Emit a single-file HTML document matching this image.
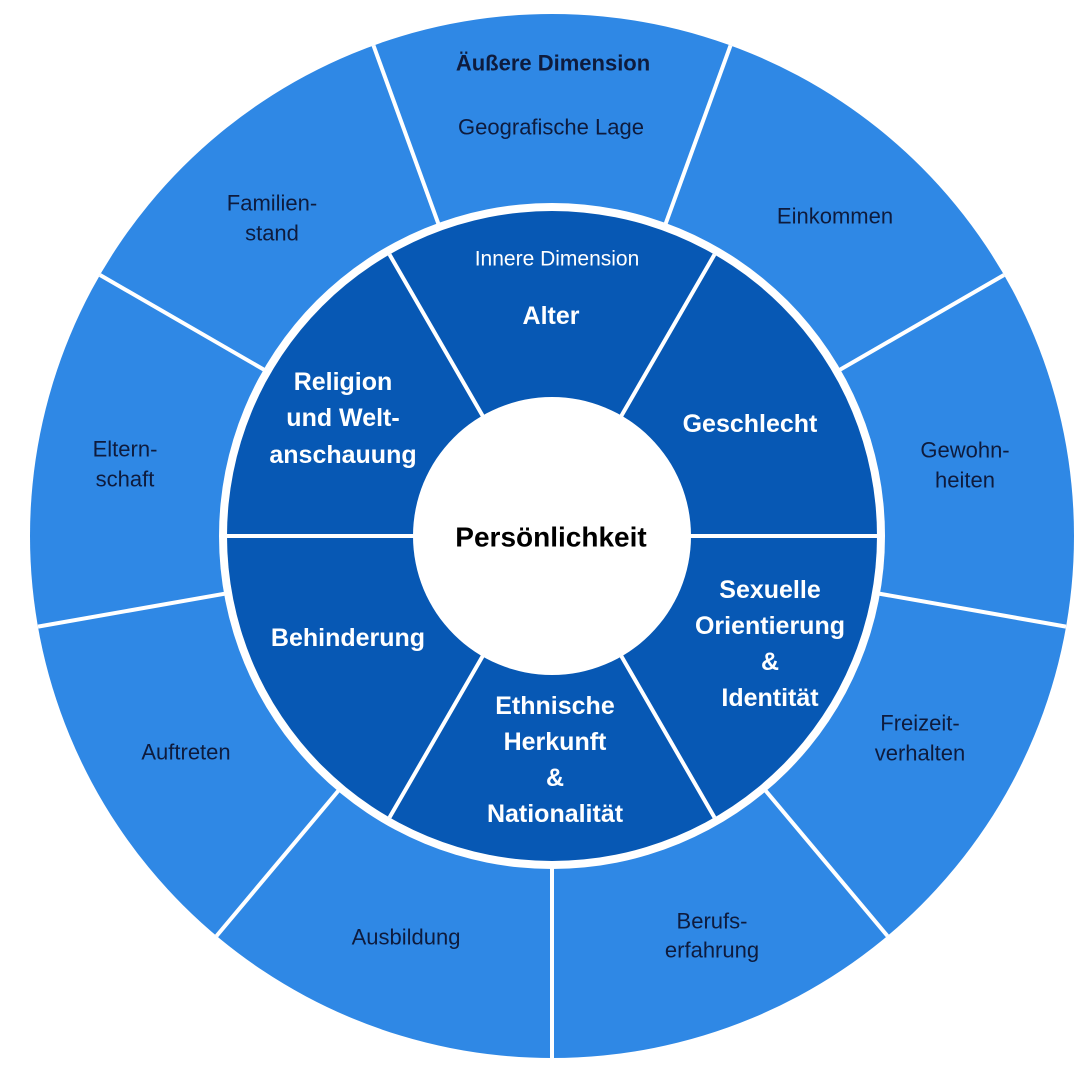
<!DOCTYPE html>
<html><head><meta charset="utf-8"><style>
html,body{margin:0;padding:0;background:#fff;}
svg{display:block;}
text{font-family:"Liberation Sans","DejaVu Sans",sans-serif;text-anchor:middle;dominant-baseline:central;}
.o{fill:#0e1b3d;font-size:22px;}
.i{fill:#fff;font-size:25px;font-weight:bold;}
</style></head><body>
<svg width="1083" height="1091" viewBox="0 0 1083 1091" xmlns="http://www.w3.org/2000/svg">
<circle cx="552" cy="536" r="522" fill="#2f88e5"/>
<g stroke="#fff" stroke-width="4">
<line x1="552" y1="536" x2="373.5" y2="45.5"/>
<line x1="552" y1="536" x2="730.5" y2="45.5"/>
<line x1="552" y1="536" x2="1004" y2="275"/>
<line x1="552" y1="536" x2="1066" y2="626.6"/>
<line x1="552" y1="536" x2="887.5" y2="936"/>
<line x1="552" y1="536" x2="552" y2="1058"/>
<line x1="552" y1="536" x2="216.5" y2="936"/>
<line x1="552" y1="536" x2="38" y2="626.6"/>
<line x1="552" y1="536" x2="100" y2="275"/>
</g>
<circle cx="552" cy="536" r="333" fill="#fff"/>
<circle cx="552" cy="536" r="325" fill="#0758b4"/>
<g stroke="#fff" stroke-width="4">
<line x1="552" y1="536" x2="714.5" y2="254.5"/>
<line x1="552" y1="536" x2="877" y2="536"/>
<line x1="552" y1="536" x2="714.5" y2="817.5"/>
<line x1="552" y1="536" x2="389.5" y2="817.5"/>
<line x1="552" y1="536" x2="227" y2="536"/>
<line x1="552" y1="536" x2="389.5" y2="254.5"/>
</g>
<circle cx="552" cy="536" r="139" fill="#fff"/>

<text x="553" y="63" class="o" style="font-weight:bold;font-size:22px">Äußere Dimension</text>
<text x="551" y="127" class="o">Geografische Lage</text>
<text x="272" y="203" class="o">Familien-</text>
<text x="272" y="233" class="o">stand</text>
<text x="835" y="216" class="o">Einkommen</text>
<text x="125" y="449" class="o">Eltern-</text>
<text x="125" y="479" class="o">schaft</text>
<text x="965" y="450" class="o">Gewohn-</text>
<text x="965" y="480" class="o">heiten</text>
<text x="186" y="752" class="o">Auftreten</text>
<text x="920" y="723" class="o">Freizeit-</text>
<text x="920" y="753" class="o">verhalten</text>
<text x="406" y="937" class="o">Ausbildung</text>
<text x="712" y="921" class="o">Berufs-</text>
<text x="712" y="950" class="o">erfahrung</text>

<text x="557" y="259" class="i" style="font-size:21px;font-weight:normal">Innere Dimension</text>
<text x="551" y="316" class="i">Alter</text>
<text x="750" y="424" class="i">Geschlecht</text>
<text x="343" y="382" class="i">Religion</text>
<text x="343" y="418" class="i">und Welt-</text>
<text x="343" y="455" class="i">anschauung</text>
<text x="348" y="638" class="i">Behinderung</text>
<text x="770" y="590" class="i">Sexuelle</text>
<text x="770" y="626" class="i">Orientierung</text>
<text x="770" y="662" class="i">&amp;</text>
<text x="770" y="698" class="i">Identität</text>
<text x="555" y="706" class="i">Ethnische</text>
<text x="555" y="742" class="i">Herkunft</text>
<text x="555" y="778" class="i">&amp;</text>
<text x="555" y="814" class="i">Nationalität</text>
<text x="551" y="537" style="fill:#000;font-size:28px;font-weight:bold">Persönlichkeit</text>
</svg>
</body></html>
